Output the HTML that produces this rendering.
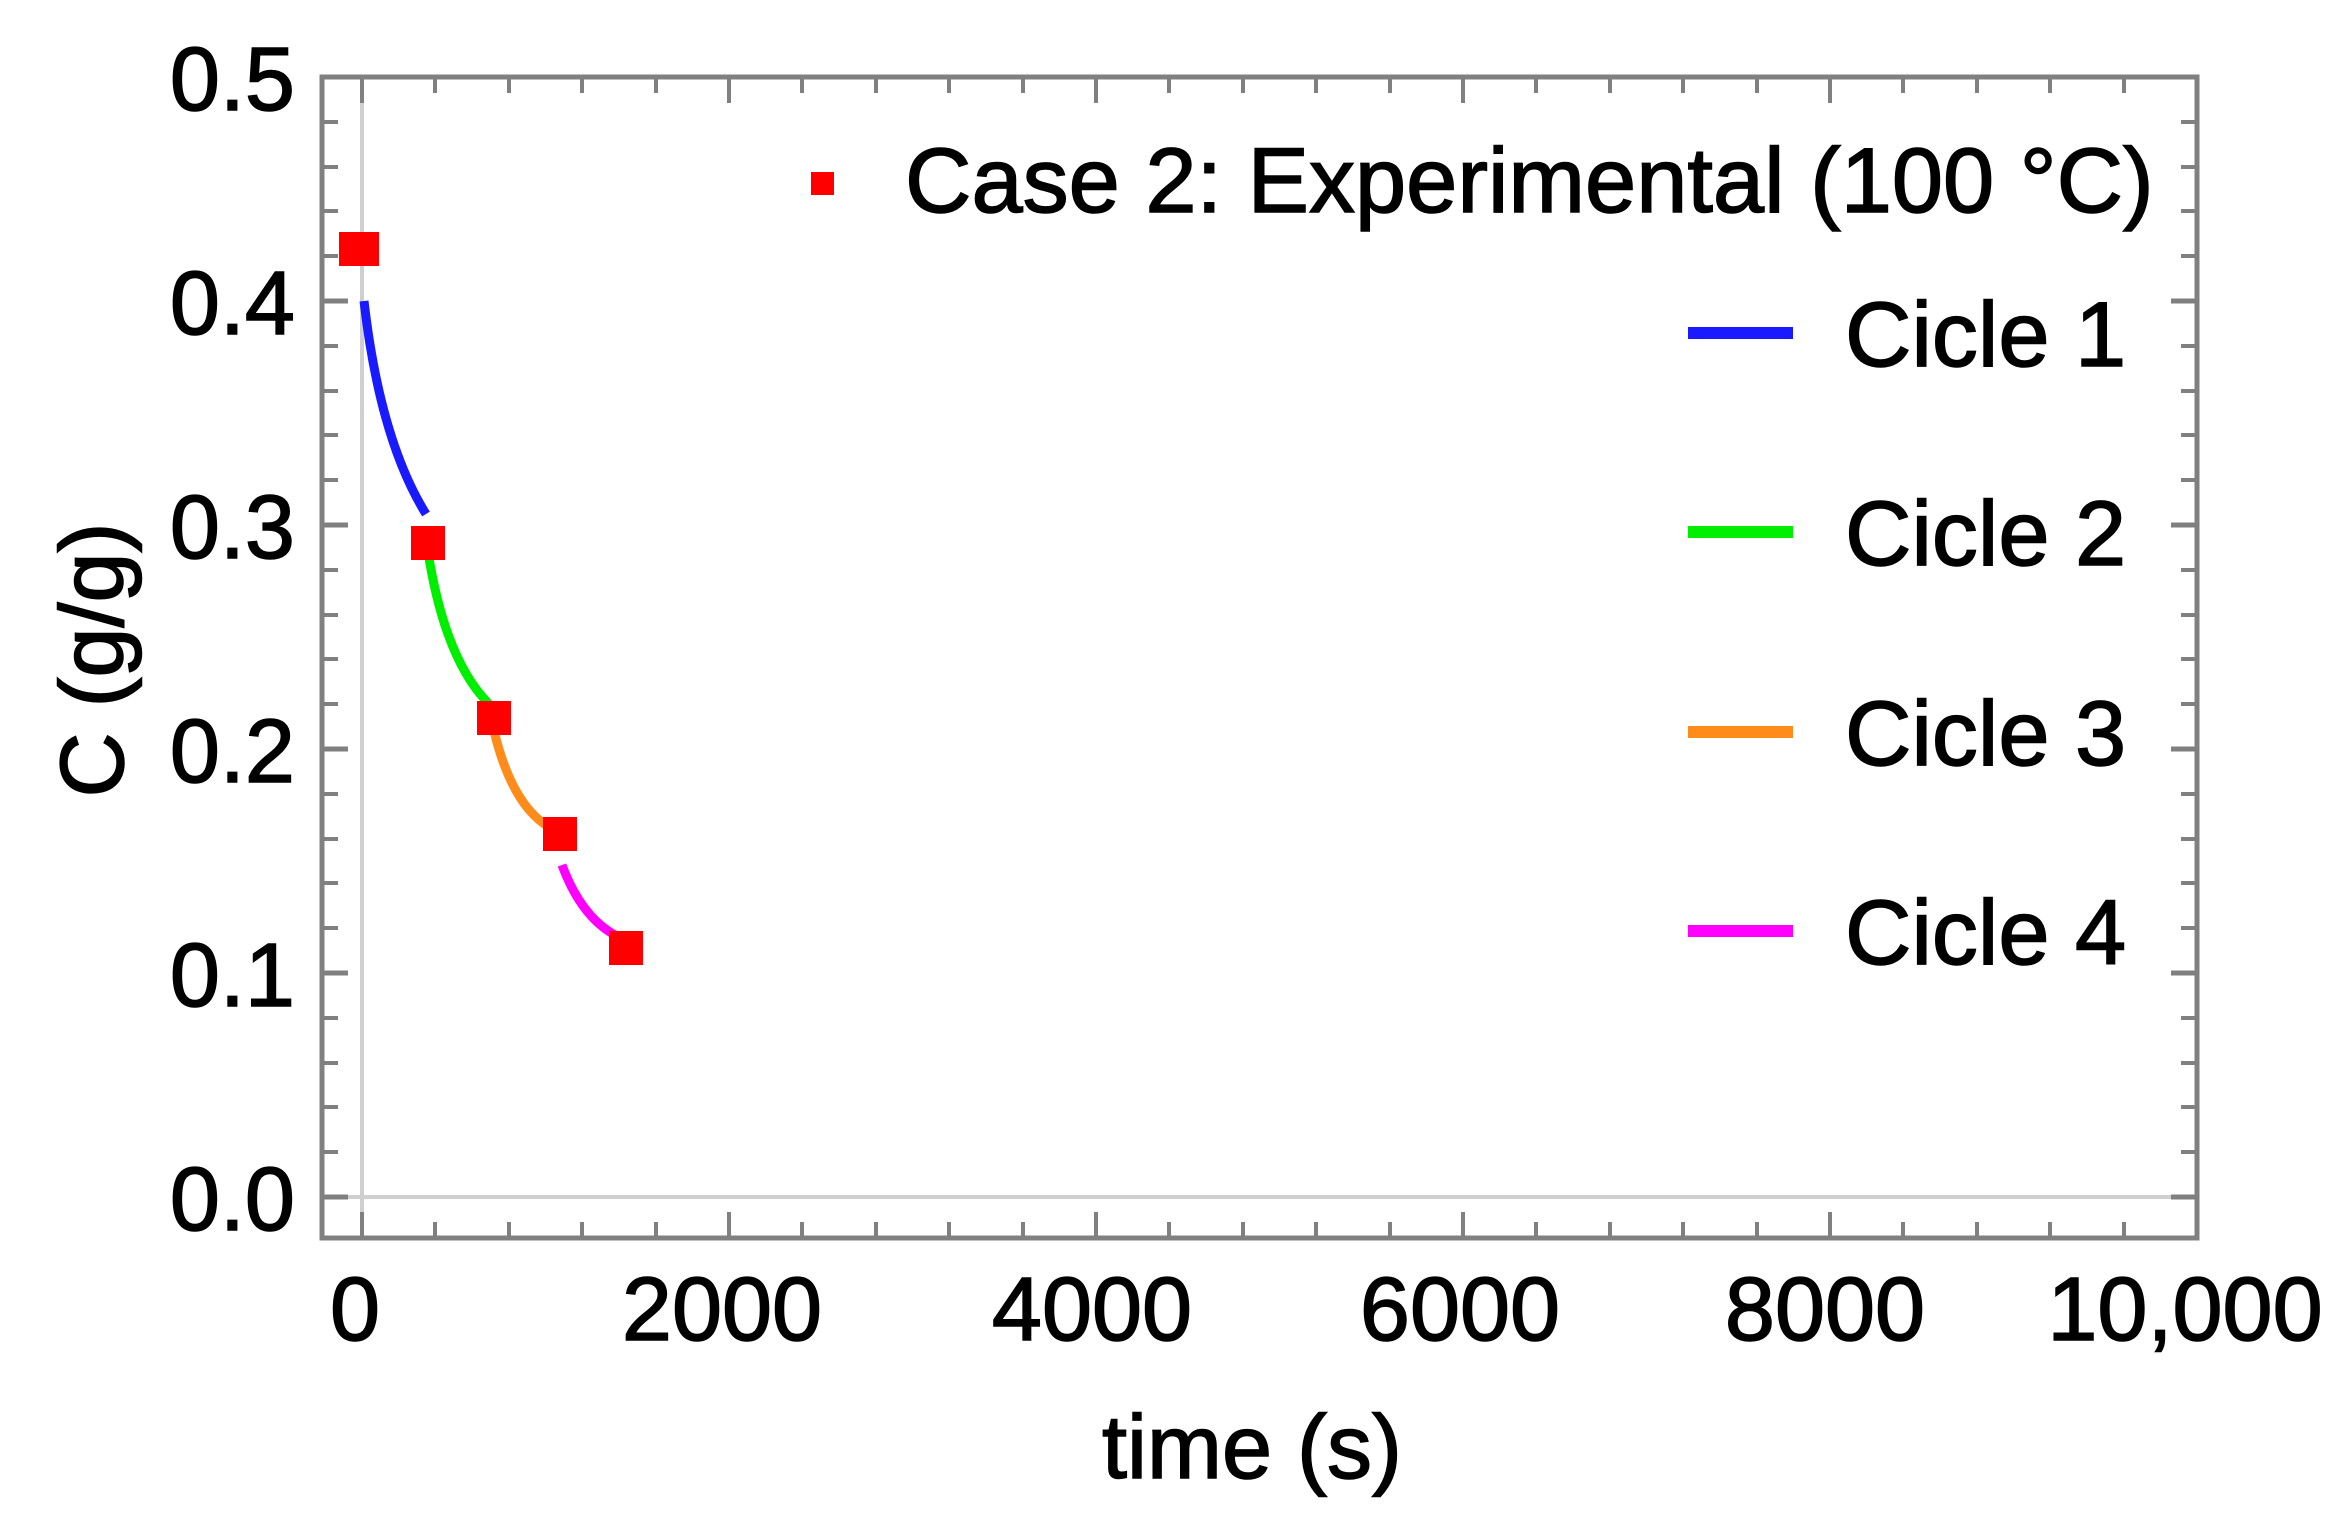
<!DOCTYPE html>
<html><head><meta charset="utf-8"><style>html,body{margin:0;padding:0;background:#fff}</style></head>
<body>
<svg width="2352" height="1530" viewBox="0 0 2352 1530" xmlns="http://www.w3.org/2000/svg" font-family="Liberation Sans, Arial, sans-serif">
<rect width="2352" height="1530" fill="#fff"/>
<line x1="362" y1="77" x2="362" y2="1238" stroke="#cfcfcf" stroke-width="4"/>
<line x1="322" y1="1197" x2="2197" y2="1197" stroke="#cfcfcf" stroke-width="4"/>
<rect x="322" y="77" width="1875" height="1161" fill="none" stroke="#808080" stroke-width="5"/>
<g stroke="#808080" stroke-width="5">
<line x1="322" y1="77" x2="348" y2="77"/><line x1="322" y1="301" x2="348" y2="301"/><line x1="322" y1="525" x2="348" y2="525"/><line x1="322" y1="749" x2="348" y2="749"/><line x1="322" y1="973" x2="348" y2="973"/><line x1="322" y1="1197" x2="348" y2="1197"/>
<line x1="2197" y1="77" x2="2171" y2="77"/><line x1="2197" y1="301" x2="2171" y2="301"/><line x1="2197" y1="525" x2="2171" y2="525"/><line x1="2197" y1="749" x2="2171" y2="749"/><line x1="2197" y1="973" x2="2171" y2="973"/><line x1="2197" y1="1197" x2="2171" y2="1197"/>
</g>
<g stroke="#808080" stroke-width="4">
<line x1="322" y1="122" x2="338" y2="122"/><line x1="322" y1="167" x2="338" y2="167"/><line x1="322" y1="211" x2="338" y2="211"/><line x1="322" y1="256" x2="338" y2="256"/>
<line x1="322" y1="346" x2="338" y2="346"/><line x1="322" y1="391" x2="338" y2="391"/><line x1="322" y1="435" x2="338" y2="435"/><line x1="322" y1="480" x2="338" y2="480"/>
<line x1="322" y1="570" x2="338" y2="570"/><line x1="322" y1="615" x2="338" y2="615"/><line x1="322" y1="659" x2="338" y2="659"/><line x1="322" y1="704" x2="338" y2="704"/>
<line x1="322" y1="794" x2="338" y2="794"/><line x1="322" y1="839" x2="338" y2="839"/><line x1="322" y1="883" x2="338" y2="883"/><line x1="322" y1="928" x2="338" y2="928"/>
<line x1="322" y1="1018" x2="338" y2="1018"/><line x1="322" y1="1063" x2="338" y2="1063"/><line x1="322" y1="1107" x2="338" y2="1107"/><line x1="322" y1="1152" x2="338" y2="1152"/>
<line x1="2197" y1="122" x2="2181" y2="122"/><line x1="2197" y1="167" x2="2181" y2="167"/><line x1="2197" y1="211" x2="2181" y2="211"/><line x1="2197" y1="256" x2="2181" y2="256"/>
<line x1="2197" y1="346" x2="2181" y2="346"/><line x1="2197" y1="391" x2="2181" y2="391"/><line x1="2197" y1="435" x2="2181" y2="435"/><line x1="2197" y1="480" x2="2181" y2="480"/>
<line x1="2197" y1="570" x2="2181" y2="570"/><line x1="2197" y1="615" x2="2181" y2="615"/><line x1="2197" y1="659" x2="2181" y2="659"/><line x1="2197" y1="704" x2="2181" y2="704"/>
<line x1="2197" y1="794" x2="2181" y2="794"/><line x1="2197" y1="839" x2="2181" y2="839"/><line x1="2197" y1="883" x2="2181" y2="883"/><line x1="2197" y1="928" x2="2181" y2="928"/>
<line x1="2197" y1="1018" x2="2181" y2="1018"/><line x1="2197" y1="1063" x2="2181" y2="1063"/><line x1="2197" y1="1107" x2="2181" y2="1107"/><line x1="2197" y1="1152" x2="2181" y2="1152"/>
</g>
<g stroke="#808080" stroke-width="4">
<line x1="362" y1="1238" x2="362" y2="1212"/><line x1="729" y1="1238" x2="729" y2="1212"/><line x1="1096" y1="1238" x2="1096" y2="1212"/><line x1="1463" y1="1238" x2="1463" y2="1212"/><line x1="1830" y1="1238" x2="1830" y2="1212"/>
<line x1="435" y1="1238" x2="435" y2="1222"/><line x1="509" y1="1238" x2="509" y2="1222"/><line x1="582" y1="1238" x2="582" y2="1222"/><line x1="656" y1="1238" x2="656" y2="1222"/>
<line x1="802" y1="1238" x2="802" y2="1222"/><line x1="876" y1="1238" x2="876" y2="1222"/><line x1="949" y1="1238" x2="949" y2="1222"/><line x1="1023" y1="1238" x2="1023" y2="1222"/>
<line x1="1169" y1="1238" x2="1169" y2="1222"/><line x1="1243" y1="1238" x2="1243" y2="1222"/><line x1="1316" y1="1238" x2="1316" y2="1222"/><line x1="1390" y1="1238" x2="1390" y2="1222"/>
<line x1="1536" y1="1238" x2="1536" y2="1222"/><line x1="1610" y1="1238" x2="1610" y2="1222"/><line x1="1683" y1="1238" x2="1683" y2="1222"/><line x1="1757" y1="1238" x2="1757" y2="1222"/>
<line x1="1903" y1="1238" x2="1903" y2="1222"/><line x1="1977" y1="1238" x2="1977" y2="1222"/><line x1="2050" y1="1238" x2="2050" y2="1222"/><line x1="2124" y1="1238" x2="2124" y2="1222"/>
<line x1="362" y1="77" x2="362" y2="103"/><line x1="729" y1="77" x2="729" y2="103"/><line x1="1096" y1="77" x2="1096" y2="103"/><line x1="1463" y1="77" x2="1463" y2="103"/><line x1="1830" y1="77" x2="1830" y2="103"/>
<line x1="435" y1="77" x2="435" y2="93"/><line x1="509" y1="77" x2="509" y2="93"/><line x1="582" y1="77" x2="582" y2="93"/><line x1="656" y1="77" x2="656" y2="93"/>
<line x1="802" y1="77" x2="802" y2="93"/><line x1="876" y1="77" x2="876" y2="93"/><line x1="949" y1="77" x2="949" y2="93"/><line x1="1023" y1="77" x2="1023" y2="93"/>
<line x1="1169" y1="77" x2="1169" y2="93"/><line x1="1243" y1="77" x2="1243" y2="93"/><line x1="1316" y1="77" x2="1316" y2="93"/><line x1="1390" y1="77" x2="1390" y2="93"/>
<line x1="1536" y1="77" x2="1536" y2="93"/><line x1="1610" y1="77" x2="1610" y2="93"/><line x1="1683" y1="77" x2="1683" y2="93"/><line x1="1757" y1="77" x2="1757" y2="93"/>
<line x1="1903" y1="77" x2="1903" y2="93"/><line x1="1977" y1="77" x2="1977" y2="93"/><line x1="2050" y1="77" x2="2050" y2="93"/><line x1="2124" y1="77" x2="2124" y2="93"/>
</g>
<g font-size="90" fill="#000" stroke="#000" stroke-width="1.5" text-anchor="end">
<text x="295" y="110">0.5</text><text x="295" y="334">0.4</text><text x="295" y="558">0.3</text><text x="295" y="782">0.2</text><text x="295" y="1006">0.1</text><text x="295" y="1230">0.0</text>
</g>
<g font-size="90" fill="#000" stroke="#000" stroke-width="1.5" text-anchor="middle">
<text x="355" y="1340">0</text><text x="722" y="1340">2000</text><text x="1092" y="1340">4000</text><text x="1460" y="1340">6000</text><text x="1825" y="1340">8000</text><text x="2185" y="1340">10,000</text>
<text x="1252" y="1478">time (s)</text>
<text transform="translate(123,660) rotate(-90)">C (g/g)</text>
</g>
<g fill="none" stroke-width="9" stroke-linecap="butt">
<path d="M364,301 Q380,440 426,514" stroke="#1a1aff"/>
<path d="M428,552 Q445,660 489,704" stroke="#00ee00"/>
<path d="M494,731 Q512,805 549,827" stroke="#ff8c1a"/>
<path d="M562,865 Q583,922 623,939" stroke="#ff00ff"/>
</g>
<g fill="#ff0000">
<rect x="339" y="232" width="40" height="34"/>
<rect x="411" y="526" width="34" height="34"/>
<rect x="477" y="701" width="34" height="34"/>
<rect x="543" y="817" width="34" height="34"/>
<rect x="609" y="931" width="34" height="34"/>
</g>
<rect x="811" y="172" width="23" height="23" fill="#ff0000"/>
<g font-size="92" fill="#000" stroke="#000" stroke-width="1.5">
<text x="905" y="212">Case 2: Experimental (100 °C)</text>
<text x="1845" y="366">Cicle 1</text>
<text x="1845" y="565">Cicle 2</text>
<text x="1845" y="765">Cicle 3</text>
<text x="1845" y="964">Cicle 4</text>
</g>
<g stroke-width="12">
<line x1="1688" y1="333" x2="1793" y2="333" stroke="#1a1aff"/>
<line x1="1688" y1="532" x2="1793" y2="532" stroke="#00ee00"/>
<line x1="1688" y1="732" x2="1793" y2="732" stroke="#ff8c1a"/>
<line x1="1688" y1="931" x2="1793" y2="931" stroke="#ff00ff"/>
</g>
</svg>
</body></html>
